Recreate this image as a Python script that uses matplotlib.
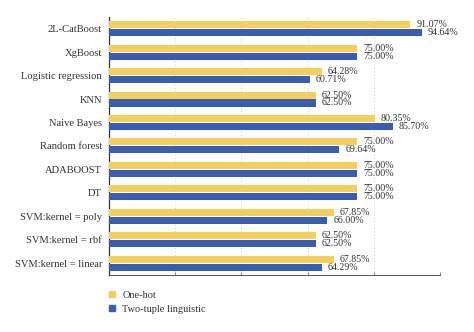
import matplotlib
matplotlib.use("Agg")
import matplotlib.pyplot as plt
import numpy as np
from matplotlib.lines import Line2D

models = ["2L-CatBoost", "XgBoost", "Logistic regression", "KNN", "Naive Bayes",
          "Random forest", "ADABOOST", "DT", "SVM:kernel = poly",
          "SVM:kernel = rbf", "SVM:kernel = linear"]
one_hot = [91.07, 75.00, 64.28, 62.50, 80.35, 75.00, 75.00, 75.00, 67.85, 62.50, 67.85]
two_tuple = [94.64, 75.00, 60.71, 62.50, 85.70, 69.64, 75.00, 75.00, 66.00, 62.50, 64.29]
series_names = ["One-hot", "Two-tuple linguistic"]

yellow = "#F4CF5E"
blue = "#3A5DAE"
text_color = "#333333"

plt.rcParams["font.family"] = ["Liberation Serif", "DejaVu Serif"]

fig = plt.figure(figsize=(4.74, 3.32), dpi=100)
ax = fig.add_axes([0.23, 0.172, 0.698, 0.777])

y = np.arange(len(models))
h = 0.30
off = 0.17
ax.barh(y - off, one_hot, height=h, color=yellow, zorder=3)
ax.barh(y + off, two_tuple, height=h, color=blue, zorder=3)

for yi, v in zip(y, one_hot):
    ax.text(v + 1.8, yi - off, f"{v:.2f}%", va="center", ha="left",
            fontsize=7.2, color=text_color)
for yi, v in zip(y, two_tuple):
    ax.text(v + 1.8, yi + off, f"{v:.2f}%", va="center", ha="left",
            fontsize=7.2, color=text_color)

ax.set_xlim(0, 100)
ax.set_ylim(len(models) - 0.5, -0.5)
ax.set_yticks(y)
ax.set_yticklabels(models, fontsize=7.6, color=text_color)
ax.set_xticks([0, 20, 40, 60, 80, 100])
ax.set_xticklabels([])
ax.tick_params(axis="x", direction="in", length=2, color="#888888")
ax.tick_params(axis="y", length=0, pad=5)
ax.xaxis.grid(True, linestyle=(0, (1, 3)), color="#c4c4c4", linewidth=0.6, zorder=0)

for s in ["top", "right"]:
    ax.spines[s].set_visible(False)
ax.spines["left"].set_color("#333333")
ax.spines["bottom"].set_color("#555555")
ax.spines["left"].set_linewidth(0.9)
ax.spines["bottom"].set_linewidth(0.7)

handles = [Line2D([], [], marker="s", linestyle="none", markersize=4.5,
                  markerfacecolor=c, markeredgecolor=c) for c in (yellow, blue)]
fig.legend(handles, series_names, loc="upper left", bbox_to_anchor=(0.205, 0.153),
           frameon=False, fontsize=7.5, handletextpad=0.5, labelspacing=0.45,
           handlelength=1.0, labelcolor=text_color)

fig.savefig("out.png", dpi=100, facecolor="white")
